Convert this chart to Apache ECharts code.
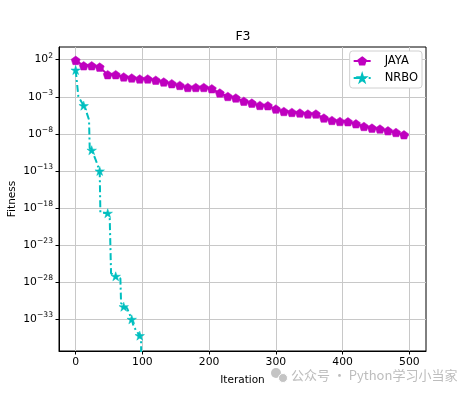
<!DOCTYPE html>
<html><head><meta charset="utf-8">
<script src="https://cdn.jsdelivr.net/npm/echarts@6/dist/echarts.min.js"></script>
<style>html,body{margin:0;padding:0;background:#fff}#c{width:474px;height:395px}</style>
</head><body><div id="c"></div>
<script>
// ---------- data ----------
const titleText = 'F3';
const seriesNames = ['JAYA', 'NRBO'];
const xTicks = [0, 100, 200, 300, 400, 500];
const yTickExponents = [2, -3, -8, -13, -18, -23, -28, -33];
const markEvery = 12;

const jayaIter = [0,12,24,36,48,60,72,84,96,108,120,132,144,156,168,180,192,204,216,228,240,252,264,276,288,300,312,324,336,348,360,372,384,396,408,420,432,444,456,468,480,492,499];
const jayaFitness = [8.1e1,1.5e1,1.5e1,1.0e1,9.5e-1,9.5e-1,4.7e-1,3.4e-1,2.5e-1,2.5e-1,1.7e-1,9.8e-2,5.8e-2,3.4e-2,1.8e-2,1.8e-2,1.8e-2,1.2e-2,3.2e-3,1.1e-3,6.8e-4,2.5e-4,1.4e-4,6.8e-5,6.2e-5,2.2e-5,1.05e-5,7.8e-6,6.5e-6,4.7e-6,4.7e-6,1.35e-6,6.5e-7,4.7e-7,4.3e-7,2.3e-7,1.0e-7,6.0e-8,4.5e-8,2.6e-8,1.55e-8,7.6e-9,6.3e-9];

const nrboIter = [0,4,12,15,20,21,24,30,36,37,48,51,53,60,67,68,72,77,84,87,96,98,99,100];
const nrboFitness = [4.0e0,1.1e-3,6.3e-5,1.8e-5,7.9e-7,1.3e-10,6.3e-11,3.2e-12,1.0e-13,2.5e-19,2.0e-19,5.0e-20,1.6e-27,6.3e-28,3.2e-28,1.6e-31,5.0e-32,3.2e-32,1.0e-33,1.0e-34,6.3e-36,1.6e-36,1.2e-36,1e-60];

// ---------- chart ----------
const FONT = 'DejaVu Sans';
function powLabel(v) {
  const e = Math.round(Math.log10(v));
  return '{b|10}{s|' + String(e).replace('-', '\u2212') + '}';
}
function toPoints(iters, vals) {
  return iters.map((it, i) => {
    const p = { value: [it, vals[i]] };
    if (it % markEvery !== 0) p.symbol = 'none';
    return p;
  });
}
const yTickValues = yTickExponents.map(e => Math.pow(10, e));
const PENTAGON = 'path://M0,-1 L0.951,-0.309 L0.588,0.809 L-0.588,0.809 L-0.951,-0.309 Z';
const STAR = 'path://M0,-1 L0.2245,-0.309 L0.951,-0.309 L0.363,0.118 L0.588,0.809 L0,0.382 L-0.588,0.809 L-0.363,0.118 L-0.951,-0.309 L-0.2245,-0.309 Z';
const MAGENTA = '#bf00bf', CYAN = '#00bfbf';

const chart = echarts.init(document.getElementById('c'), null, { renderer: 'canvas' });
chart.setOption({
  animation: false,
  backgroundColor: '#fff',
  title: {
    text: titleText, left: 243, top: 30, padding: 0, textAlign: 'center',
    textStyle: { fontFamily: FONT, fontSize: 12.5, fontWeight: 'normal', color: '#000' }
  },
  grid: {
    left: 59, right: 48, top: 47, bottom: 44,
    containLabel: false, outerBoundsMode: 'none',
    show: true, borderColor: '#000', borderWidth: 1, backgroundColor: 'transparent'
  },
  legend: {
    orient: 'vertical', right: 52, top: 51, padding: [4, 4, 4, 3], itemGap: 5,
    itemWidth: 17, itemHeight: 9,
    backgroundColor: '#fff', borderColor: '#d0d0d0', borderWidth: 1, borderRadius: 3,
    textStyle: { fontFamily: FONT, fontSize: 11.5, color: '#000', padding: [0, 0, 0, 9] },
    data: seriesNames
  },
  xAxis: {
    type: 'value', min: -25, max: 525,
    name: 'Iteration', nameLocation: 'middle', nameGap: 24, nameMoveOverlap: false,
    nameTextStyle: { fontFamily: FONT, fontSize: 10.5, color: '#000' },
    axisLine: { show: true, onZero: false, lineStyle: { color: '#000', width: 1 } },
    axisTick: { show: true, inside: false, length: 3.5, lineStyle: { color: '#000' }, customValues: xTicks },
    axisLabel: { customValues: xTicks, fontFamily: FONT, fontSize: 10.8, color: '#000', margin: 6 },
    splitLine: { show: true, lineStyle: { color: '#c8c8c8', width: 1 } }
  },
  yAxis: {
    type: 'log', logBase: 10,
    min: Math.pow(10, -37.27), max: Math.pow(10, 3.71),
    name: 'Fitness', nameLocation: 'middle', nameGap: 41, nameRotate: 90, nameMoveOverlap: false,
    nameTextStyle: { fontFamily: FONT, fontSize: 10.5, color: '#000' },
    axisLine: { show: true, onZero: false, lineStyle: { color: '#000', width: 1 } },
    axisTick: { show: true, inside: false, length: 3.5, lineStyle: { color: '#000' }, customValues: yTickValues },
    axisLabel: {
      customValues: yTickValues, color: '#000', margin: 6, formatter: powLabel,
      rich: {
        b: { fontFamily: FONT, fontSize: 10.8, color: '#000' },
        s: { fontFamily: FONT, fontSize: 7.6, color: '#000', padding: [0, 0, 8, 0] }
      }
    },
    splitLine: { show: true, lineStyle: { color: '#c8c8c8', width: 1 } },
    minorTick: { show: false }, minorSplitLine: { show: false }
  },
  graphic: [
    { type: 'circle', shape: { cx: 276, cy: 373, r: 5 }, style: { fill: '#c4c4c4' } },
    { type: 'circle', shape: { cx: 283, cy: 378, r: 4.5 }, style: { fill: '#c4c4c4', stroke: '#fff', lineWidth: 1 } },
    { type: 'text', left: 291, top: 369,
      style: { text: '公众号 · Python学习小当家', fill: '#bdbdbd', font: '13px "Noto Sans CJK SC"' } }
  ],
  series: [
    {
      name: seriesNames[0], type: 'line', data: toPoints(jayaIter, jayaFitness),
      symbol: PENTAGON, symbolSize: 9, symbolKeepAspect: true, showSymbol: true,
      lineStyle: { color: MAGENTA, width: 2 },
      itemStyle: { color: MAGENTA, borderColor: MAGENTA, borderWidth: 0.5 },
      clip: true, z: 2
    },
    {
      name: seriesNames[1], type: 'line', data: toPoints(nrboIter, nrboFitness),
      symbol: STAR, symbolSize: 9.5, symbolKeepAspect: true, showSymbol: true,
      lineStyle: { color: CYAN, width: 2, type: [7, 3, 2, 3] },
      itemStyle: { color: CYAN, borderColor: CYAN, borderWidth: 0.5 },
      clip: true, z: 3
    }
  ]
});
</script></body></html>
